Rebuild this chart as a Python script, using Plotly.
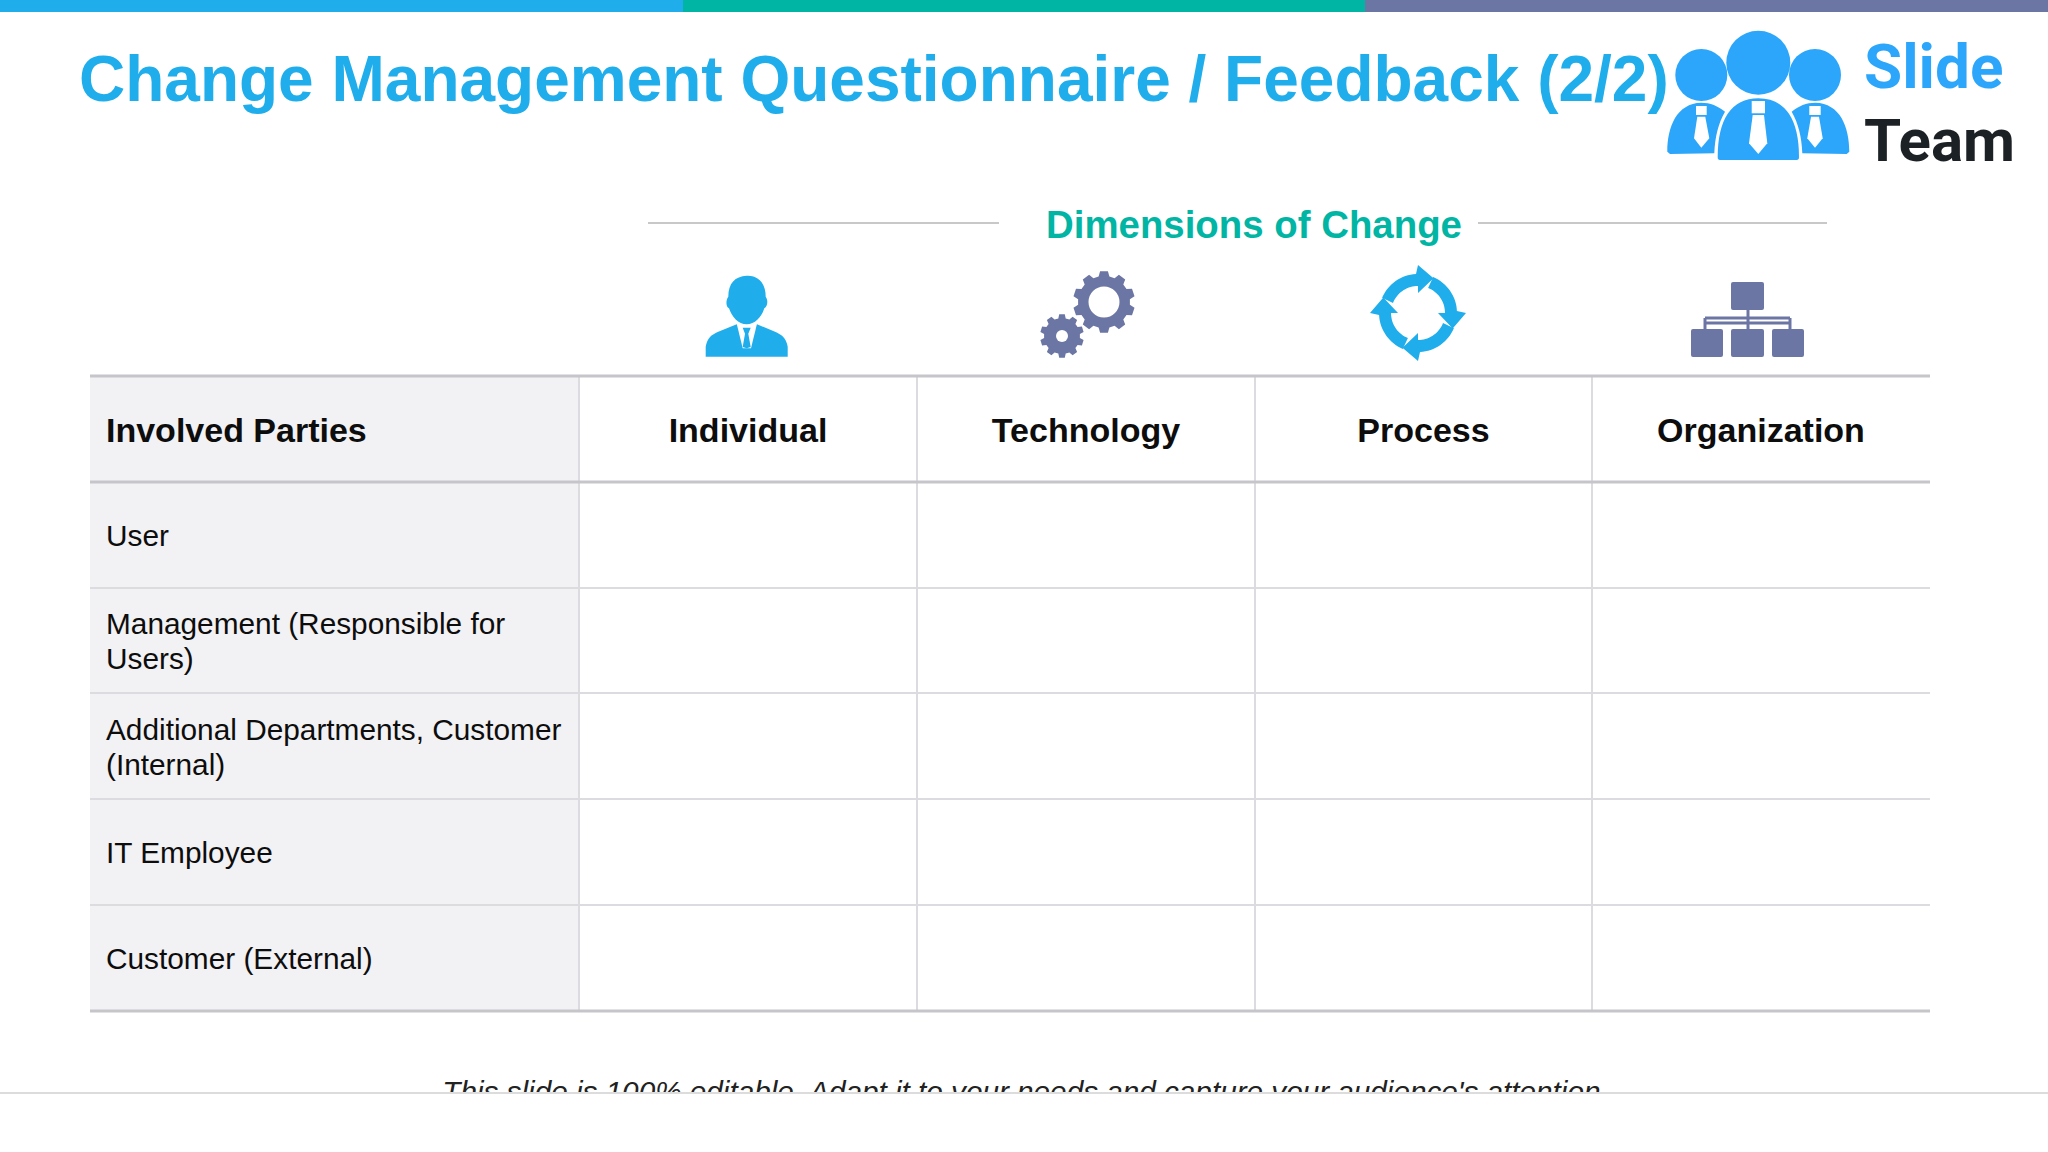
import math
import plotly.graph_objects as go

title = "Change Management Questionnaire / Feedback (2/2)"
band_title = "Dimensions of Change"
columns = ["Individual", "Technology", "Process", "Organization"]
corner = "Involved Parties"
parties = ["User", "Management (Responsible for|Users)", "Additional Departments, Customer|(Internal)", "IT Employee", "Customer (External)"]
footer = "This slide is 100% editable. Adapt it to your needs and capture your audience's attention."

BLUE = "#1fadec"
TEAL = "#00b5a3"
PURPLE = "#6c76a4"
LOGO = "#2ba6fb"
INK = "#0d0d0d"
col_edges = [90, 579, 917, 1255, 1592, 1930]
row_edges = [376, 482, 588, 693, 799, 905, 1011]

shapes = []


def rect(x0, y0, x1, y1, color, layer="below"):
    shapes.append(dict(type="rect", x0=x0, y0=y0, x1=x1, y1=y1, fillcolor=color, line_width=0, layer=layer))


def line(x0, y0, x1, y1, color, width):
    shapes.append(dict(type="line", x0=x0, y0=y0, x1=x1, y1=y1, line=dict(color=color, width=width), layer="below"))


def poly(points, color):
    path = "M" + " L".join(f"{x:.1f},{y:.1f}" for x, y in points) + " Z"
    shapes.append(dict(type="path", path=path, fillcolor=color, line_width=0, layer="below"))


def curve(path, color, ox, oy, outline=None):
    # path is written in crop pixels (3x), pairs get moved to the slide
    out = []
    for tok in path.split():
        if "," in tok:
            cmd = tok[0] if tok[0].isalpha() else ""
            a, b = tok.lstrip("MLCQ").split(",")
            out.append(f"{cmd}{ox + float(a) / 3:.1f},{oy + float(b) / 3:.1f}")
        else:
            out.append(tok)
    lw = dict(color=outline, width=2) if outline else dict(width=0)
    shapes.append(dict(type="path", path=" ".join(out), fillcolor=color, line=lw, layer="below"))


def circle(cx, cy, r, color):
    shapes.append(dict(type="circle", x0=cx - r, y0=cy - r, x1=cx + r, y1=cy + r, fillcolor=color, line_width=0, layer="below"))


def gear(cx, cy, r_out, r_in, teeth, hole, color):
    pts = []
    for i in range(teeth):
        a = 2 * math.pi * i / teeth - math.pi / 2
        step = 2 * math.pi / teeth
        for da, r in [(-0.33, r_in), (-0.2, r_out), (0.2, r_out), (0.33, r_in)]:
            pts.append((cx + r * math.cos(a + da * step), cy + r * math.sin(a + da * step)))
    poly(pts, color)
    circle(cx, cy, hole, "white")


def cycle_arrow(cx, cy, turn, color):
    # one quarter of the refresh icon, angles clockwise from straight up
    def pol(deg, r):
        a = math.radians(deg + turn)
        return (cx + r * math.sin(a), cy - r * math.cos(a))
    pts = [pol(d, 39) for d in range(-67, 1, 4)]
    pts += [pol(0, 48), pol(24, 38), pol(0, 20)]
    pts += [pol(d, 27) for d in range(0, -71, -4)]
    poly(pts, color)


def round_box(x0, y0, x1, y1, r, color):
    path = (f"M{x0 + r},{y0} L{x1 - r},{y0} Q{x1},{y0} {x1},{y0 + r} L{x1},{y1 - r} Q{x1},{y1} {x1 - r},{y1} "
            f"L{x0 + r},{y1} Q{x0},{y1} {x0},{y1 - r} L{x0},{y0 + r} Q{x0},{y0} {x0 + r},{y0} Z")
    shapes.append(dict(type="path", path=path, fillcolor=color, line_width=0, layer="below"))


# top colour bands
rect(0, 0, 683, 12, BLUE)
rect(683, 0, 1365, 12, TEAL)
rect(1365, 0, 2048, 12, PURPLE)

# table
rect(col_edges[0], row_edges[0], col_edges[1], row_edges[-1], "#f2f1f4")
for x in col_edges[1:-1]:
    line(x, row_edges[0], x, row_edges[-1], "#dcdbdf", 2)
for i, y in enumerate(row_edges):
    heavy = i in (0, 1, len(row_edges) - 1)
    line(col_edges[0], y, col_edges[-1], y, "#c6c5c9" if heavy else "#dcdbdf", 3 if heavy else 2)

# lines beside the band title
line(648, 223, 999, 223, "#c8c8c8", 2)
line(1478, 223, 1827, 223, "#c8c8c8", 2)

# person icon
curve("M32,275 L32,245 C36,218 52,208 70,200 L125,178 L186,178 L240,200 C258,208 274,218 278,245 L278,275 Z", BLUE, 695, 265)
curve("M125,176 L143,250 L168,250 L186,176 Z", "white", 695, 265)
curve("M143,188 L167,188 L160,206 L167,246 L155,250 L143,246 L150,206 Z", BLUE, 695, 265)
curve("M155,32 C190,30 212,55 212,95 C220,105 218,125 208,130 C200,155 180,178 155,178 C130,178 110,155 102,130 C92,125 92,105 100,95 C100,55 120,34 155,32 Z", BLUE, 695, 265)

# gears
gear(1104, 302, 31, 26, 10, 15.5, PURPLE)
gear(1062, 336, 22, 18, 10, 6, PURPLE)

# refresh icon
for turn in (0, 90, 180, 270):
    cycle_arrow(1418, 313, turn, BLUE)

# org chart icon
for x0, x1, y0, y1 in [(1731, 1764, 282, 310), (1691, 1723, 329, 357), (1731, 1764, 329, 357), (1772, 1804, 329, 357)]:
    round_box(x0, y0, x1, y1, 2, PURPLE)
line(1748, 310, 1748, 329, PURPLE, 3)
line(1705, 318, 1790, 318, PURPLE, 3)
line(1705, 323, 1790, 323, PURPLE, 3)
line(1705, 318, 1705, 329, PURPLE, 3)
line(1790, 318, 1790, 329, PURPLE, 3)

# logo, the outer two people first
curve("M22,395 C22,320 50,250 124,248 C150,248 175,258 195,275 C175,310 165,350 163,400 L30,402 Z", LOGO, 1660, 20)
curve("M568,395 C568,320 540,250 466,248 C440,248 415,258 395,275 C415,310 425,350 427,400 L560,402 Z", LOGO, 1660, 20)
curve("M170,412 C170,300 210,232 295,232 C380,232 420,300 420,412 C420,420 415,423 410,423 L180,423 C175,423 170,420 170,412 Z", LOGO, 1660, 20, outline="white")
circle(1701.3, 75, 26, LOGO)
circle(1815, 75, 26, LOGO)
circle(1758.3, 62.7, 32, LOGO)
for knot, tie in [
    ("M275,243 L315,243 L315,280 L275,280 Z", "M278,285 L312,285 L322,370 L295,402 L267,370 Z"),
    ("M108,258 L140,258 L140,285 L108,285 Z", "M112,290 L136,290 L148,355 L124,383 L102,355 Z"),
    ("M448,258 L482,258 L482,285 L448,285 Z", "M453,290 L477,290 L488,355 L465,383 L442,355 Z"),
]:
    curve(knot, "white", 1660, 20)
    curve(tie, "white", 1660, 20)

# white band over the cut off footer text, with its hairline
rect(0, 1093, 2048, 1152, "white", layer="above")
shapes.append(dict(type="line", x0=0, y0=1093, x1=2048, y1=1093, line=dict(color="#dcdcdc", width=2), layer="above"))

col_mid = [(col_edges[i] + col_edges[i + 1]) / 2 for i in range(1, 5)]
row_mid = [(row_edges[i] + row_edges[i + 1]) / 2 + 4 for i in range(6)]

# two line labels are placed line by line, the slide's leading is tighter than plotly's
party_text, party_y = [], []
for label, mid in zip(parties, row_mid[1:]):
    rows = label.split("|")
    for k, part in enumerate(rows):
        party_text.append(part)
        party_y.append(mid + (k - (len(rows) - 1) / 2) * 35)

fig = go.Figure()
fig.add_trace(go.Scatter(x=col_mid, y=[row_mid[0]] * 4, text=columns, mode="text", textposition="middle center",
                         textfont=dict(family="Liberation Sans", size=34, color=INK, weight="bold"), hoverinfo="skip"))
fig.add_trace(go.Scatter(x=[106], y=[row_mid[0]], text=[corner], mode="text", textposition="middle right",
                         textfont=dict(family="Liberation Sans", size=34, color=INK, weight="bold"), hoverinfo="skip"))
fig.add_trace(go.Scatter(x=[106] * len(party_text), y=party_y, text=party_text, mode="text", textposition="middle right",
                         textfont=dict(family="Liberation Sans", size=29.8, color=INK), hoverinfo="skip"))
fig.add_trace(go.Scatter(x=[1025.5], y=[1095], text=[footer], mode="text", textposition="middle center",
                         textfont=dict(family="Liberation Sans", size=29.7, color="#222222", style="italic"), hoverinfo="skip"))

fig.add_annotation(x=1254, y=224, text=band_title, showarrow=False, font=dict(family="Liberation Sans", size=38.4, color=TEAL, weight="bold"))
fig.add_annotation(x=1862, y=66, xanchor="left", text="Slide", showarrow=False, font=dict(family="Roboto", size=62, color=LOGO, weight="bold"))
fig.add_annotation(x=1862, y=140, xanchor="left", text="Team", showarrow=False, font=dict(family="Roboto", size=60, color="#1c2126", weight="bold"))

fig.update_layout(
    title=dict(text=title, x=79 / 2048, xanchor="left", y=1 - 79 / 1152, yanchor="middle",
               font=dict(family="Liberation Sans", size=64, color=BLUE, weight="bold")),
    width=2048, height=1152, margin=dict(l=0, r=0, t=0, b=0),
    paper_bgcolor="white", plot_bgcolor="white", showlegend=False, shapes=shapes,
    xaxis=dict(range=[0, 2048], visible=False, fixedrange=True),
    yaxis=dict(range=[1152, 0], visible=False, fixedrange=True),
)

fig.write_html("out.html", config=dict(displayModeBar=False), post_script="document.body.style.margin='0';")
